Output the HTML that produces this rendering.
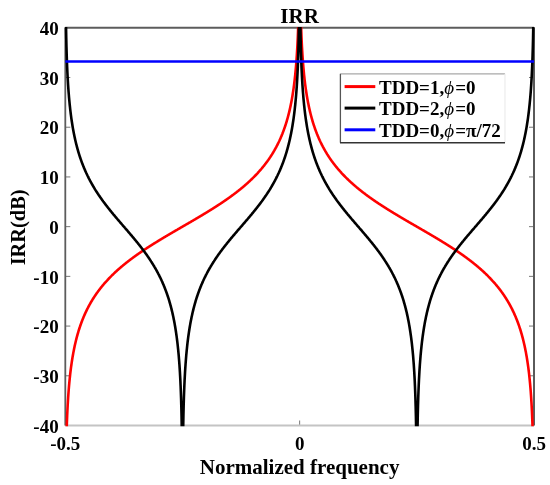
<!DOCTYPE html>
<html><head><meta charset="utf-8"><style>
html,body{margin:0;padding:0;background:#fff;}
svg{display:block;}
text{font-family:"Liberation Serif", "Times New Roman", serif;fill:#000;}
</style></head><body>
<svg width="550" height="485" viewBox="0 0 550 485">
<defs><clipPath id="ax"><rect x="64.0" y="26.900000000000002" width="471.30" height="399.30"/></clipPath></defs>
<rect x="0" y="0" width="550" height="485" fill="#fff"/>
<path d="M65.3,375.79h5M534.0,375.79h-5M65.3,326.07h5M534.0,326.07h-5M65.3,276.36h5M534.0,276.36h-5M65.3,226.65h5M534.0,226.65h-5M65.3,176.94h5M534.0,176.94h-5M65.3,127.22h5M534.0,127.22h-5M65.3,77.51h5M534.0,77.51h-5M299.65,425.5v-5M299.65,27.8v5" stroke="#777" stroke-width="1" fill="none"/>
<path d="M65.3,27.8H534.0" stroke="#5c5c5c" stroke-width="2" fill="none"/>
<path d="M65.3,425.5H534.0" stroke="#c4c4c4" stroke-width="2" fill="none"/>
<path d="M65.3,27.8V425.5" stroke="#5c5c5c" stroke-width="1.8" fill="none"/>
<path d="M534.0,27.8V425.5" stroke="#5a5a5a" stroke-width="2" fill="none"/>
<g clip-path="url(#ax)" fill="none" stroke-width="2.6" stroke-linejoin="round">
<path d="M65.30,500.07 L66.47,435.93 L66.71,428.06 L66.94,421.40 L67.17,415.63 L67.41,410.55 L67.64,406.00 L67.88,401.88 L68.11,398.12 L68.35,394.67 L68.58,391.47 L68.82,388.48 L69.05,385.70 L69.28,383.08 L69.52,380.61 L69.75,378.27 L69.99,376.06 L70.22,373.95 L70.46,371.94 L70.69,370.02 L70.92,368.18 L71.16,366.41 L71.39,364.72 L71.63,363.09 L71.86,361.51 L72.10,360.00 L72.33,358.53 L72.56,357.11 L72.80,355.74 L73.03,354.41 L73.27,353.12 L73.50,351.86 L73.74,350.64 L73.97,349.46 L74.21,348.30 L74.44,347.18 L74.67,346.08 L74.91,345.01 L75.14,343.97 L75.38,342.95 L75.61,341.96 L75.85,340.98 L76.08,340.03 L76.31,339.10 L76.55,338.19 L76.78,337.29 L77.02,336.42 L77.25,335.56 L77.49,334.72 L77.72,333.89 L77.95,333.08 L78.19,332.28 L78.42,331.50 L78.66,330.73 L78.89,329.98 L79.13,329.23 L79.36,328.50 L79.60,327.79 L79.83,327.08 L80.06,326.39 L80.30,325.70 L80.53,325.03 L80.77,324.36 L81.00,323.71 L81.24,323.06 L81.47,322.43 L81.70,321.80 L81.94,321.18 L82.17,320.58 L82.41,319.98 L82.64,319.38 L82.88,318.80 L83.11,318.22 L83.34,317.65 L83.58,317.09 L83.81,316.53 L84.05,315.98 L84.28,315.44 L84.52,314.91 L84.75,314.38 L84.99,313.85 L85.22,313.34 L85.45,312.82 L85.69,312.32 L85.92,311.82 L86.16,311.33 L86.39,310.84 L86.63,310.35 L86.86,309.87 L87.09,309.40 L87.33,308.93 L87.56,308.47 L87.80,308.01 L88.03,307.56 L88.27,307.11 L88.50,306.66 L88.73,306.22 L88.97,305.78 L89.20,305.35 L89.44,304.92 L89.67,304.50 L89.91,304.07 L90.14,303.66 L90.38,303.24 L90.61,302.84 L90.84,302.43 L91.08,302.03 L91.31,301.63 L91.55,301.23 L91.78,300.84 L92.02,300.45 L92.25,300.07 L92.48,299.69 L92.72,299.31 L92.95,298.93 L93.19,298.56 L93.42,298.19 L93.66,297.82 L93.89,297.46 L94.13,297.09 L94.36,296.74 L94.59,296.38 L94.83,296.03 L95.06,295.68 L95.30,295.33 L95.53,294.98 L95.77,294.64 L96.00,294.30 L96.23,293.96 L96.47,293.63 L96.70,293.29 L96.94,292.96 L97.17,292.63 L97.41,292.31 L97.64,291.98 L97.87,291.66 L98.11,291.34 L98.34,291.03 L98.58,290.71 L98.81,290.40 L99.05,290.09 L99.28,289.78 L99.52,289.47 L99.75,289.16 L99.98,288.86 L100.22,288.56 L100.45,288.26 L100.69,287.96 L100.92,287.66 L101.16,287.37 L101.39,287.08 L101.62,286.79 L101.86,286.50 L102.09,286.21 L102.33,285.92 L102.56,285.64 L102.80,285.36 L103.03,285.08 L103.26,284.80 L103.50,284.52 L103.73,284.24 L103.97,283.97 L104.20,283.70 L104.44,283.43 L104.67,283.16 L104.91,282.89 L105.14,282.62 L105.37,282.35 L105.61,282.09 L105.84,281.83 L106.08,281.56 L106.31,281.30 L106.55,281.05 L106.78,280.79 L107.01,280.53 L107.25,280.28 L107.48,280.02 L107.72,279.77 L107.95,279.52 L108.19,279.27 L108.42,279.02 L108.65,278.77 L108.89,278.53 L109.12,278.28 L109.36,278.04 L109.59,277.79 L109.83,277.55 L110.06,277.31 L110.30,277.07 L110.53,276.83 L110.76,276.59 L111.00,276.36 L111.23,276.12 L111.47,275.89 L111.70,275.66 L111.94,275.42 L112.17,275.19 L112.40,274.96 L112.64,274.73 L112.87,274.50 L113.11,274.28 L113.34,274.05 L113.58,273.82 L113.81,273.60 L114.04,273.38 L114.28,273.15 L114.51,272.93 L114.75,272.71 L114.98,272.49 L115.22,272.27 L115.45,272.05 L115.69,271.84 L115.92,271.62 L116.15,271.40 L116.39,271.19 L116.62,270.98 L116.86,270.76 L117.09,270.55 L117.33,270.34 L117.56,270.13 L117.79,269.92 L118.03,269.71 L118.26,269.50 L118.50,269.29 L118.73,269.08 L118.97,268.88 L119.20,268.67 L119.43,268.47 L119.67,268.26 L119.90,268.06 L120.14,267.86 L120.37,267.66 L120.61,267.46 L120.84,267.25 L121.08,267.05 L121.31,266.86 L121.54,266.66 L121.78,266.46 L122.01,266.26 L122.25,266.07 L122.48,265.87 L122.72,265.67 L122.95,265.48 L123.18,265.29 L123.42,265.09 L123.65,264.90 L123.89,264.71 L124.12,264.52 L124.36,264.32 L124.59,264.13 L124.82,263.94 L125.06,263.76 L125.29,263.57 L125.53,263.38 L125.76,263.19 L126.00,263.00 L126.23,262.82 L126.47,262.63 L126.70,262.45 L126.93,262.26 L127.17,262.08 L127.40,261.89 L127.64,261.71 L127.87,261.53 L128.11,261.35 L128.34,261.17 L128.57,260.98 L128.81,260.80 L129.04,260.62 L129.28,260.44 L129.51,260.26 L129.75,260.09 L129.98,259.91 L130.21,259.73 L130.45,259.55 L130.68,259.38 L130.92,259.20 L131.15,259.02 L131.39,258.85 L131.62,258.67 L131.86,258.50 L132.09,258.33 L132.32,258.15 L132.56,257.98 L132.79,257.81 L133.03,257.63 L133.26,257.46 L133.50,257.29 L133.73,257.12 L133.96,256.95 L134.20,256.78 L134.43,256.61 L134.67,256.44 L134.90,256.27 L135.14,256.10 L135.37,255.93 L135.61,255.77 L135.84,255.60 L136.07,255.43 L136.31,255.26 L136.54,255.10 L136.78,254.93 L137.01,254.77 L137.25,254.60 L137.48,254.44 L137.71,254.27 L137.95,254.11 L138.18,253.94 L138.42,253.78 L138.65,253.62 L138.89,253.45 L139.12,253.29 L139.35,253.13 L139.59,252.97 L139.82,252.81 L140.06,252.64 L140.29,252.48 L140.53,252.32 L140.76,252.16 L141.00,252.00 L141.23,251.84 L141.46,251.68 L141.70,251.53 L141.93,251.37 L142.17,251.21 L142.40,251.05 L142.64,250.89 L142.87,250.74 L143.10,250.58 L143.34,250.42 L143.57,250.26 L143.81,250.11 L144.04,249.95 L144.28,249.80 L144.51,249.64 L144.74,249.49 L144.98,249.33 L145.21,249.18 L145.45,249.02 L145.68,248.87 L145.92,248.71 L146.15,248.56 L146.39,248.41 L146.62,248.25 L146.85,248.10 L147.09,247.95 L147.32,247.80 L147.56,247.64 L147.79,247.49 L148.03,247.34 L148.26,247.19 L148.49,247.04 L148.73,246.89 L148.96,246.74 L149.20,246.59 L149.43,246.44 L149.67,246.29 L149.90,246.14 L150.13,245.99 L150.37,245.84 L150.60,245.69 L150.84,245.54 L151.07,245.39 L151.31,245.24 L151.54,245.09 L151.78,244.94 L152.01,244.80 L152.24,244.65 L152.48,244.50 L152.71,244.35 L152.95,244.21 L153.18,244.06 L153.42,243.91 L153.65,243.77 L153.88,243.62 L154.12,243.47 L154.35,243.33 L154.59,243.18 L154.82,243.04 L155.06,242.89 L155.29,242.75 L155.52,242.60 L155.76,242.46 L155.99,242.31 L156.23,242.17 L156.46,242.02 L156.70,241.88 L156.93,241.73 L157.17,241.59 L157.40,241.45 L157.63,241.30 L157.87,241.16 L158.10,241.02 L158.34,240.87 L158.57,240.73 L158.81,240.59 L159.04,240.44 L159.27,240.30 L159.51,240.16 L159.74,240.02 L159.98,239.87 L160.21,239.73 L160.45,239.59 L160.68,239.45 L160.91,239.31 L161.15,239.17 L161.38,239.02 L161.62,238.88 L161.85,238.74 L162.09,238.60 L162.32,238.46 L162.56,238.32 L162.79,238.18 L163.02,238.04 L163.26,237.90 L163.49,237.76 L163.73,237.62 L163.96,237.48 L164.20,237.34 L164.43,237.20 L164.66,237.06 L164.90,236.92 L165.13,236.78 L165.37,236.64 L165.60,236.50 L165.84,236.36 L166.07,236.22 L166.30,236.08 L166.54,235.95 L166.77,235.81 L167.01,235.67 L167.24,235.53 L167.48,235.39 L167.71,235.25 L167.95,235.11 L168.18,234.98 L168.41,234.84 L168.65,234.70 L168.88,234.56 L169.12,234.42 L169.35,234.29 L169.59,234.15 L169.82,234.01 L170.05,233.87 L170.29,233.74 L170.52,233.60 L170.76,233.46 L170.99,233.32 L171.23,233.19 L171.46,233.05 L171.69,232.91 L171.93,232.77 L172.16,232.64 L172.40,232.50 L172.63,232.36 L172.87,232.23 L173.10,232.09 L173.34,231.95 L173.57,231.82 L173.80,231.68 L174.04,231.54 L174.27,231.41 L174.51,231.27 L174.74,231.13 L174.98,231.00 L175.21,230.86 L175.44,230.73 L175.68,230.59 L175.91,230.45 L176.15,230.32 L176.38,230.18 L176.62,230.04 L176.85,229.91 L177.08,229.77 L177.32,229.64 L177.55,229.50 L177.79,229.36 L178.02,229.23 L178.26,229.09 L178.49,228.96 L178.73,228.82 L178.96,228.69 L179.19,228.55 L179.43,228.41 L179.66,228.28 L179.90,228.14 L180.13,228.01 L180.37,227.87 L180.60,227.74 L180.83,227.60 L181.07,227.46 L181.30,227.33 L181.54,227.19 L181.77,227.06 L182.01,226.92 L182.24,226.79 L182.47,226.65 L182.71,226.51 L182.94,226.38 L183.18,226.24 L183.41,226.11 L183.65,225.97 L183.88,225.84 L184.12,225.70 L184.35,225.56 L184.58,225.43 L184.82,225.29 L185.05,225.16 L185.29,225.02 L185.52,224.89 L185.76,224.75 L185.99,224.61 L186.22,224.48 L186.46,224.34 L186.69,224.21 L186.93,224.07 L187.16,223.94 L187.40,223.80 L187.63,223.66 L187.87,223.53 L188.10,223.39 L188.33,223.26 L188.57,223.12 L188.80,222.98 L189.04,222.85 L189.27,222.71 L189.51,222.57 L189.74,222.44 L189.97,222.30 L190.21,222.17 L190.44,222.03 L190.68,221.89 L190.91,221.76 L191.15,221.62 L191.38,221.48 L191.61,221.35 L191.85,221.21 L192.08,221.07 L192.32,220.94 L192.55,220.80 L192.79,220.66 L193.02,220.53 L193.26,220.39 L193.49,220.25 L193.72,220.11 L193.96,219.98 L194.19,219.84 L194.43,219.70 L194.66,219.56 L194.90,219.43 L195.13,219.29 L195.36,219.15 L195.60,219.01 L195.83,218.88 L196.07,218.74 L196.30,218.60 L196.54,218.46 L196.77,218.32 L197.00,218.19 L197.24,218.05 L197.47,217.91 L197.71,217.77 L197.94,217.63 L198.18,217.49 L198.41,217.35 L198.65,217.22 L198.88,217.08 L199.11,216.94 L199.35,216.80 L199.58,216.66 L199.82,216.52 L200.05,216.38 L200.29,216.24 L200.52,216.10 L200.75,215.96 L200.99,215.82 L201.22,215.68 L201.46,215.54 L201.69,215.40 L201.93,215.26 L202.16,215.12 L202.39,214.98 L202.63,214.84 L202.86,214.70 L203.10,214.56 L203.33,214.42 L203.57,214.28 L203.80,214.13 L204.04,213.99 L204.27,213.85 L204.50,213.71 L204.74,213.57 L204.97,213.43 L205.21,213.28 L205.44,213.14 L205.68,213.00 L205.91,212.86 L206.14,212.71 L206.38,212.57 L206.61,212.43 L206.85,212.28 L207.08,212.14 L207.32,212.00 L207.55,211.85 L207.78,211.71 L208.02,211.57 L208.25,211.42 L208.49,211.28 L208.72,211.13 L208.96,210.99 L209.19,210.84 L209.43,210.70 L209.66,210.55 L209.89,210.41 L210.13,210.26 L210.36,210.12 L210.60,209.97 L210.83,209.83 L211.07,209.68 L211.30,209.53 L211.53,209.39 L211.77,209.24 L212.00,209.09 L212.24,208.95 L212.47,208.80 L212.71,208.65 L212.94,208.50 L213.17,208.36 L213.41,208.21 L213.64,208.06 L213.88,207.91 L214.11,207.76 L214.35,207.61 L214.58,207.46 L214.82,207.31 L215.05,207.16 L215.28,207.01 L215.52,206.86 L215.75,206.71 L215.99,206.56 L216.22,206.41 L216.46,206.26 L216.69,206.11 L216.92,205.96 L217.16,205.81 L217.39,205.66 L217.63,205.50 L217.86,205.35 L218.10,205.20 L218.33,205.05 L218.56,204.89 L218.80,204.74 L219.03,204.59 L219.27,204.43 L219.50,204.28 L219.74,204.12 L219.97,203.97 L220.21,203.81 L220.44,203.66 L220.67,203.50 L220.91,203.35 L221.14,203.19 L221.38,203.04 L221.61,202.88 L221.85,202.72 L222.08,202.56 L222.31,202.41 L222.55,202.25 L222.78,202.09 L223.02,201.93 L223.25,201.77 L223.49,201.62 L223.72,201.46 L223.95,201.30 L224.19,201.14 L224.42,200.98 L224.66,200.82 L224.89,200.66 L225.13,200.49 L225.36,200.33 L225.60,200.17 L225.83,200.01 L226.06,199.85 L226.30,199.68 L226.53,199.52 L226.77,199.36 L227.00,199.19 L227.24,199.03 L227.47,198.86 L227.70,198.70 L227.94,198.53 L228.17,198.37 L228.41,198.20 L228.64,198.04 L228.88,197.87 L229.11,197.70 L229.35,197.53 L229.58,197.37 L229.81,197.20 L230.05,197.03 L230.28,196.86 L230.52,196.69 L230.75,196.52 L230.99,196.35 L231.22,196.18 L231.45,196.01 L231.69,195.84 L231.92,195.67 L232.16,195.49 L232.39,195.32 L232.63,195.15 L232.86,194.97 L233.09,194.80 L233.33,194.63 L233.56,194.45 L233.80,194.28 L234.03,194.10 L234.27,193.92 L234.50,193.75 L234.74,193.57 L234.97,193.39 L235.20,193.21 L235.44,193.04 L235.67,192.86 L235.91,192.68 L236.14,192.50 L236.38,192.32 L236.61,192.13 L236.84,191.95 L237.08,191.77 L237.31,191.59 L237.55,191.41 L237.78,191.22 L238.02,191.04 L238.25,190.85 L238.48,190.67 L238.72,190.48 L238.95,190.30 L239.19,190.11 L239.42,189.92 L239.66,189.73 L239.89,189.54 L240.13,189.36 L240.36,189.17 L240.59,188.98 L240.83,188.78 L241.06,188.59 L241.30,188.40 L241.53,188.21 L241.77,188.01 L242.00,187.82 L242.23,187.63 L242.47,187.43 L242.70,187.23 L242.94,187.04 L243.17,186.84 L243.41,186.64 L243.64,186.44 L243.87,186.25 L244.11,186.05 L244.34,185.84 L244.58,185.64 L244.81,185.44 L245.05,185.24 L245.28,185.04 L245.52,184.83 L245.75,184.63 L245.98,184.42 L246.22,184.22 L246.45,184.01 L246.69,183.80 L246.92,183.59 L247.16,183.38 L247.39,183.17 L247.62,182.96 L247.86,182.75 L248.09,182.54 L248.33,182.32 L248.56,182.11 L248.80,181.90 L249.03,181.68 L249.26,181.46 L249.50,181.25 L249.73,181.03 L249.97,180.81 L250.20,180.59 L250.44,180.37 L250.67,180.15 L250.91,179.92 L251.14,179.70 L251.37,179.48 L251.61,179.25 L251.84,179.02 L252.08,178.80 L252.31,178.57 L252.55,178.34 L252.78,178.11 L253.01,177.88 L253.25,177.64 L253.48,177.41 L253.72,177.18 L253.95,176.94 L254.19,176.71 L254.42,176.47 L254.65,176.23 L254.89,175.99 L255.12,175.75 L255.36,175.51 L255.59,175.26 L255.83,175.02 L256.06,174.77 L256.30,174.53 L256.53,174.28 L256.76,174.03 L257.00,173.78 L257.23,173.53 L257.47,173.28 L257.70,173.02 L257.94,172.77 L258.17,172.51 L258.40,172.25 L258.64,172.00 L258.87,171.74 L259.11,171.47 L259.34,171.21 L259.58,170.95 L259.81,170.68 L260.04,170.41 L260.28,170.14 L260.51,169.87 L260.75,169.60 L260.98,169.33 L261.22,169.06 L261.45,168.78 L261.69,168.50 L261.92,168.22 L262.15,167.94 L262.39,167.66 L262.62,167.38 L262.86,167.09 L263.09,166.80 L263.33,166.51 L263.56,166.22 L263.79,165.93 L264.03,165.64 L264.26,165.34 L264.50,165.04 L264.73,164.74 L264.97,164.44 L265.20,164.14 L265.43,163.83 L265.67,163.52 L265.90,163.21 L266.14,162.90 L266.37,162.59 L266.61,162.27 L266.84,161.96 L267.08,161.64 L267.31,161.32 L267.54,160.99 L267.78,160.67 L268.01,160.34 L268.25,160.01 L268.48,159.67 L268.72,159.34 L268.95,159.00 L269.18,158.66 L269.42,158.32 L269.65,157.97 L269.89,157.62 L270.12,157.27 L270.36,156.92 L270.59,156.56 L270.82,156.21 L271.06,155.84 L271.29,155.48 L271.53,155.11 L271.76,154.74 L272.00,154.37 L272.23,153.99 L272.47,153.61 L272.70,153.23 L272.93,152.85 L273.17,152.46 L273.40,152.07 L273.64,151.67 L273.87,151.27 L274.11,150.87 L274.34,150.46 L274.57,150.06 L274.81,149.64 L275.04,149.23 L275.28,148.80 L275.51,148.38 L275.75,147.95 L275.98,147.52 L276.21,147.08 L276.45,146.64 L276.68,146.19 L276.92,145.74 L277.15,145.29 L277.39,144.83 L277.62,144.37 L277.86,143.90 L278.09,143.43 L278.32,142.95 L278.56,142.46 L278.79,141.97 L279.03,141.48 L279.26,140.98 L279.50,140.48 L279.73,139.96 L279.96,139.45 L280.20,138.92 L280.43,138.39 L280.67,137.86 L280.90,137.32 L281.14,136.77 L281.37,136.21 L281.61,135.65 L281.84,135.08 L282.07,134.50 L282.31,133.92 L282.54,133.32 L282.78,132.72 L283.01,132.12 L283.25,131.50 L283.48,130.87 L283.71,130.24 L283.95,129.59 L284.18,128.94 L284.42,128.27 L284.65,127.60 L284.89,126.91 L285.12,126.22 L285.35,125.51 L285.59,124.80 L285.82,124.07 L286.06,123.32 L286.29,122.57 L286.53,121.80 L286.76,121.02 L287.00,120.22 L287.23,119.41 L287.46,118.58 L287.70,117.74 L287.93,116.88 L288.17,116.01 L288.40,115.11 L288.64,114.20 L288.87,113.27 L289.10,112.32 L289.34,111.34 L289.57,110.35 L289.81,109.33 L290.04,108.29 L290.28,107.22 L290.51,106.12 L290.74,105.00 L290.98,103.84 L291.21,102.66 L291.45,101.44 L291.68,100.18 L291.92,98.89 L292.15,97.56 L292.39,96.19 L292.62,94.77 L292.85,93.30 L293.09,91.79 L293.32,90.21 L293.56,88.58 L293.79,86.89 L294.03,85.12 L294.26,83.28 L294.49,81.36 L294.73,79.35 L294.96,77.24 L295.20,75.03 L295.43,72.69 L295.67,70.22 L295.90,67.60 L296.13,64.82 L296.37,61.83 L296.60,58.63 L296.84,55.18 L297.07,51.42 L297.31,47.30 L297.54,42.75 L297.78,37.67 L298.01,31.90 L298.24,25.24 L298.48,17.37 L299.42,-46.77M299.88,-46.77 L300.82,17.37 L301.06,25.24 L301.29,31.90 L301.52,37.67 L301.76,42.75 L301.99,47.30 L302.23,51.42 L302.46,55.18 L302.70,58.63 L302.93,61.83 L303.17,64.82 L303.40,67.60 L303.63,70.22 L303.87,72.69 L304.10,75.03 L304.34,77.24 L304.57,79.35 L304.81,81.36 L305.04,83.28 L305.27,85.12 L305.51,86.89 L305.74,88.58 L305.98,90.21 L306.21,91.79 L306.45,93.30 L306.68,94.77 L306.91,96.19 L307.15,97.56 L307.38,98.89 L307.62,100.18 L307.85,101.44 L308.09,102.66 L308.32,103.84 L308.56,105.00 L308.79,106.12 L309.02,107.22 L309.26,108.29 L309.49,109.33 L309.73,110.35 L309.96,111.34 L310.20,112.32 L310.43,113.27 L310.66,114.20 L310.90,115.11 L311.13,116.01 L311.37,116.88 L311.60,117.74 L311.84,118.58 L312.07,119.41 L312.30,120.22 L312.54,121.02 L312.77,121.80 L313.01,122.57 L313.24,123.32 L313.48,124.07 L313.71,124.80 L313.95,125.51 L314.18,126.22 L314.41,126.91 L314.65,127.60 L314.88,128.27 L315.12,128.94 L315.35,129.59 L315.59,130.24 L315.82,130.87 L316.05,131.50 L316.29,132.12 L316.52,132.72 L316.76,133.32 L316.99,133.92 L317.23,134.50 L317.46,135.08 L317.69,135.65 L317.93,136.21 L318.16,136.77 L318.40,137.32 L318.63,137.86 L318.87,138.39 L319.10,138.92 L319.34,139.45 L319.57,139.96 L319.80,140.48 L320.04,140.98 L320.27,141.48 L320.51,141.97 L320.74,142.46 L320.98,142.95 L321.21,143.43 L321.44,143.90 L321.68,144.37 L321.91,144.83 L322.15,145.29 L322.38,145.74 L322.62,146.19 L322.85,146.64 L323.09,147.08 L323.32,147.52 L323.55,147.95 L323.79,148.38 L324.02,148.80 L324.26,149.23 L324.49,149.64 L324.73,150.06 L324.96,150.46 L325.19,150.87 L325.43,151.27 L325.66,151.67 L325.90,152.07 L326.13,152.46 L326.37,152.85 L326.60,153.23 L326.83,153.61 L327.07,153.99 L327.30,154.37 L327.54,154.74 L327.77,155.11 L328.01,155.48 L328.24,155.84 L328.48,156.21 L328.71,156.56 L328.94,156.92 L329.18,157.27 L329.41,157.62 L329.65,157.97 L329.88,158.32 L330.12,158.66 L330.35,159.00 L330.58,159.34 L330.82,159.67 L331.05,160.01 L331.29,160.34 L331.52,160.67 L331.76,160.99 L331.99,161.32 L332.22,161.64 L332.46,161.96 L332.69,162.27 L332.93,162.59 L333.16,162.90 L333.40,163.21 L333.63,163.52 L333.87,163.83 L334.10,164.14 L334.33,164.44 L334.57,164.74 L334.80,165.04 L335.04,165.34 L335.27,165.64 L335.51,165.93 L335.74,166.22 L335.97,166.51 L336.21,166.80 L336.44,167.09 L336.68,167.38 L336.91,167.66 L337.15,167.94 L337.38,168.22 L337.61,168.50 L337.85,168.78 L338.08,169.06 L338.32,169.33 L338.55,169.60 L338.79,169.87 L339.02,170.14 L339.26,170.41 L339.49,170.68 L339.72,170.95 L339.96,171.21 L340.19,171.47 L340.43,171.74 L340.66,172.00 L340.90,172.25 L341.13,172.51 L341.36,172.77 L341.60,173.02 L341.83,173.28 L342.07,173.53 L342.30,173.78 L342.54,174.03 L342.77,174.28 L343.00,174.53 L343.24,174.77 L343.47,175.02 L343.71,175.26 L343.94,175.51 L344.18,175.75 L344.41,175.99 L344.65,176.23 L344.88,176.47 L345.11,176.71 L345.35,176.94 L345.58,177.18 L345.82,177.41 L346.05,177.64 L346.29,177.88 L346.52,178.11 L346.75,178.34 L346.99,178.57 L347.22,178.80 L347.46,179.02 L347.69,179.25 L347.93,179.48 L348.16,179.70 L348.39,179.92 L348.63,180.15 L348.86,180.37 L349.10,180.59 L349.33,180.81 L349.57,181.03 L349.80,181.25 L350.04,181.46 L350.27,181.68 L350.50,181.90 L350.74,182.11 L350.97,182.32 L351.21,182.54 L351.44,182.75 L351.68,182.96 L351.91,183.17 L352.14,183.38 L352.38,183.59 L352.61,183.80 L352.85,184.01 L353.08,184.22 L353.32,184.42 L353.55,184.63 L353.78,184.83 L354.02,185.04 L354.25,185.24 L354.49,185.44 L354.72,185.64 L354.96,185.84 L355.19,186.05 L355.43,186.25 L355.66,186.44 L355.89,186.64 L356.13,186.84 L356.36,187.04 L356.60,187.23 L356.83,187.43 L357.07,187.63 L357.30,187.82 L357.53,188.01 L357.77,188.21 L358.00,188.40 L358.24,188.59 L358.47,188.78 L358.71,188.98 L358.94,189.17 L359.17,189.36 L359.41,189.54 L359.64,189.73 L359.88,189.92 L360.11,190.11 L360.35,190.30 L360.58,190.48 L360.82,190.67 L361.05,190.85 L361.28,191.04 L361.52,191.22 L361.75,191.41 L361.99,191.59 L362.22,191.77 L362.46,191.95 L362.69,192.13 L362.92,192.32 L363.16,192.50 L363.39,192.68 L363.63,192.86 L363.86,193.04 L364.10,193.21 L364.33,193.39 L364.56,193.57 L364.80,193.75 L365.03,193.92 L365.27,194.10 L365.50,194.28 L365.74,194.45 L365.97,194.63 L366.21,194.80 L366.44,194.97 L366.67,195.15 L366.91,195.32 L367.14,195.49 L367.38,195.67 L367.61,195.84 L367.85,196.01 L368.08,196.18 L368.31,196.35 L368.55,196.52 L368.78,196.69 L369.02,196.86 L369.25,197.03 L369.49,197.20 L369.72,197.37 L369.96,197.53 L370.19,197.70 L370.42,197.87 L370.66,198.04 L370.89,198.20 L371.13,198.37 L371.36,198.53 L371.60,198.70 L371.83,198.86 L372.06,199.03 L372.30,199.19 L372.53,199.36 L372.77,199.52 L373.00,199.68 L373.24,199.85 L373.47,200.01 L373.70,200.17 L373.94,200.33 L374.17,200.49 L374.41,200.66 L374.64,200.82 L374.88,200.98 L375.11,201.14 L375.35,201.30 L375.58,201.46 L375.81,201.62 L376.05,201.77 L376.28,201.93 L376.52,202.09 L376.75,202.25 L376.99,202.41 L377.22,202.56 L377.45,202.72 L377.69,202.88 L377.92,203.04 L378.16,203.19 L378.39,203.35 L378.63,203.50 L378.86,203.66 L379.09,203.81 L379.33,203.97 L379.56,204.12 L379.80,204.28 L380.03,204.43 L380.27,204.59 L380.50,204.74 L380.74,204.89 L380.97,205.05 L381.20,205.20 L381.44,205.35 L381.67,205.50 L381.91,205.66 L382.14,205.81 L382.38,205.96 L382.61,206.11 L382.84,206.26 L383.08,206.41 L383.31,206.56 L383.55,206.71 L383.78,206.86 L384.02,207.01 L384.25,207.16 L384.48,207.31 L384.72,207.46 L384.95,207.61 L385.19,207.76 L385.42,207.91 L385.66,208.06 L385.89,208.21 L386.13,208.36 L386.36,208.50 L386.59,208.65 L386.83,208.80 L387.06,208.95 L387.30,209.09 L387.53,209.24 L387.77,209.39 L388.00,209.53 L388.23,209.68 L388.47,209.83 L388.70,209.97 L388.94,210.12 L389.17,210.26 L389.41,210.41 L389.64,210.55 L389.87,210.70 L390.11,210.84 L390.34,210.99 L390.58,211.13 L390.81,211.28 L391.05,211.42 L391.28,211.57 L391.52,211.71 L391.75,211.85 L391.98,212.00 L392.22,212.14 L392.45,212.28 L392.69,212.43 L392.92,212.57 L393.16,212.71 L393.39,212.86 L393.62,213.00 L393.86,213.14 L394.09,213.28 L394.33,213.43 L394.56,213.57 L394.80,213.71 L395.03,213.85 L395.26,213.99 L395.50,214.13 L395.73,214.28 L395.97,214.42 L396.20,214.56 L396.44,214.70 L396.67,214.84 L396.91,214.98 L397.14,215.12 L397.37,215.26 L397.61,215.40 L397.84,215.54 L398.08,215.68 L398.31,215.82 L398.55,215.96 L398.78,216.10 L399.01,216.24 L399.25,216.38 L399.48,216.52 L399.72,216.66 L399.95,216.80 L400.19,216.94 L400.42,217.08 L400.65,217.22 L400.89,217.35 L401.12,217.49 L401.36,217.63 L401.59,217.77 L401.83,217.91 L402.06,218.05 L402.30,218.19 L402.53,218.32 L402.76,218.46 L403.00,218.60 L403.23,218.74 L403.47,218.88 L403.70,219.01 L403.94,219.15 L404.17,219.29 L404.40,219.43 L404.64,219.56 L404.87,219.70 L405.11,219.84 L405.34,219.98 L405.58,220.11 L405.81,220.25 L406.04,220.39 L406.28,220.53 L406.51,220.66 L406.75,220.80 L406.98,220.94 L407.22,221.07 L407.45,221.21 L407.69,221.35 L407.92,221.48 L408.15,221.62 L408.39,221.76 L408.62,221.89 L408.86,222.03 L409.09,222.17 L409.33,222.30 L409.56,222.44 L409.79,222.57 L410.03,222.71 L410.26,222.85 L410.50,222.98 L410.73,223.12 L410.97,223.26 L411.20,223.39 L411.43,223.53 L411.67,223.66 L411.90,223.80 L412.14,223.94 L412.37,224.07 L412.61,224.21 L412.84,224.34 L413.08,224.48 L413.31,224.61 L413.54,224.75 L413.78,224.89 L414.01,225.02 L414.25,225.16 L414.48,225.29 L414.72,225.43 L414.95,225.56 L415.18,225.70 L415.42,225.84 L415.65,225.97 L415.89,226.11 L416.12,226.24 L416.36,226.38 L416.59,226.51 L416.82,226.65 L417.06,226.79 L417.29,226.92 L417.53,227.06 L417.76,227.19 L418.00,227.33 L418.23,227.46 L418.47,227.60 L418.70,227.74 L418.93,227.87 L419.17,228.01 L419.40,228.14 L419.64,228.28 L419.87,228.41 L420.11,228.55 L420.34,228.69 L420.57,228.82 L420.81,228.96 L421.04,229.09 L421.28,229.23 L421.51,229.36 L421.75,229.50 L421.98,229.64 L422.22,229.77 L422.45,229.91 L422.68,230.04 L422.92,230.18 L423.15,230.32 L423.39,230.45 L423.62,230.59 L423.86,230.73 L424.09,230.86 L424.32,231.00 L424.56,231.13 L424.79,231.27 L425.03,231.41 L425.26,231.54 L425.50,231.68 L425.73,231.82 L425.96,231.95 L426.20,232.09 L426.43,232.23 L426.67,232.36 L426.90,232.50 L427.14,232.64 L427.37,232.77 L427.61,232.91 L427.84,233.05 L428.07,233.19 L428.31,233.32 L428.54,233.46 L428.78,233.60 L429.01,233.74 L429.25,233.87 L429.48,234.01 L429.71,234.15 L429.95,234.29 L430.18,234.42 L430.42,234.56 L430.65,234.70 L430.89,234.84 L431.12,234.98 L431.35,235.11 L431.59,235.25 L431.82,235.39 L432.06,235.53 L432.29,235.67 L432.53,235.81 L432.76,235.95 L433.00,236.08 L433.23,236.22 L433.46,236.36 L433.70,236.50 L433.93,236.64 L434.17,236.78 L434.40,236.92 L434.64,237.06 L434.87,237.20 L435.10,237.34 L435.34,237.48 L435.57,237.62 L435.81,237.76 L436.04,237.90 L436.28,238.04 L436.51,238.18 L436.74,238.32 L436.98,238.46 L437.21,238.60 L437.45,238.74 L437.68,238.88 L437.92,239.02 L438.15,239.17 L438.39,239.31 L438.62,239.45 L438.85,239.59 L439.09,239.73 L439.32,239.87 L439.56,240.02 L439.79,240.16 L440.03,240.30 L440.26,240.44 L440.49,240.59 L440.73,240.73 L440.96,240.87 L441.20,241.02 L441.43,241.16 L441.67,241.30 L441.90,241.45 L442.13,241.59 L442.37,241.73 L442.60,241.88 L442.84,242.02 L443.07,242.17 L443.31,242.31 L443.54,242.46 L443.78,242.60 L444.01,242.75 L444.24,242.89 L444.48,243.04 L444.71,243.18 L444.95,243.33 L445.18,243.47 L445.42,243.62 L445.65,243.77 L445.88,243.91 L446.12,244.06 L446.35,244.21 L446.59,244.35 L446.82,244.50 L447.06,244.65 L447.29,244.80 L447.52,244.94 L447.76,245.09 L447.99,245.24 L448.23,245.39 L448.46,245.54 L448.70,245.69 L448.93,245.84 L449.17,245.99 L449.40,246.14 L449.63,246.29 L449.87,246.44 L450.10,246.59 L450.34,246.74 L450.57,246.89 L450.81,247.04 L451.04,247.19 L451.27,247.34 L451.51,247.49 L451.74,247.64 L451.98,247.80 L452.21,247.95 L452.45,248.10 L452.68,248.25 L452.91,248.41 L453.15,248.56 L453.38,248.71 L453.62,248.87 L453.85,249.02 L454.09,249.18 L454.32,249.33 L454.56,249.49 L454.79,249.64 L455.02,249.80 L455.26,249.95 L455.49,250.11 L455.73,250.26 L455.96,250.42 L456.20,250.58 L456.43,250.74 L456.66,250.89 L456.90,251.05 L457.13,251.21 L457.37,251.37 L457.60,251.53 L457.84,251.68 L458.07,251.84 L458.30,252.00 L458.54,252.16 L458.77,252.32 L459.01,252.48 L459.24,252.64 L459.48,252.81 L459.71,252.97 L459.95,253.13 L460.18,253.29 L460.41,253.45 L460.65,253.62 L460.88,253.78 L461.12,253.94 L461.35,254.11 L461.59,254.27 L461.82,254.44 L462.05,254.60 L462.29,254.77 L462.52,254.93 L462.76,255.10 L462.99,255.26 L463.23,255.43 L463.46,255.60 L463.69,255.77 L463.93,255.93 L464.16,256.10 L464.40,256.27 L464.63,256.44 L464.87,256.61 L465.10,256.78 L465.34,256.95 L465.57,257.12 L465.80,257.29 L466.04,257.46 L466.27,257.63 L466.51,257.81 L466.74,257.98 L466.98,258.15 L467.21,258.33 L467.44,258.50 L467.68,258.67 L467.91,258.85 L468.15,259.02 L468.38,259.20 L468.62,259.38 L468.85,259.55 L469.09,259.73 L469.32,259.91 L469.55,260.09 L469.79,260.26 L470.02,260.44 L470.26,260.62 L470.49,260.80 L470.73,260.98 L470.96,261.17 L471.19,261.35 L471.43,261.53 L471.66,261.71 L471.90,261.89 L472.13,262.08 L472.37,262.26 L472.60,262.45 L472.83,262.63 L473.07,262.82 L473.30,263.00 L473.54,263.19 L473.77,263.38 L474.01,263.57 L474.24,263.76 L474.48,263.94 L474.71,264.13 L474.94,264.32 L475.18,264.52 L475.41,264.71 L475.65,264.90 L475.88,265.09 L476.12,265.29 L476.35,265.48 L476.58,265.67 L476.82,265.87 L477.05,266.07 L477.29,266.26 L477.52,266.46 L477.76,266.66 L477.99,266.86 L478.22,267.05 L478.46,267.25 L478.69,267.46 L478.93,267.66 L479.16,267.86 L479.40,268.06 L479.63,268.26 L479.87,268.47 L480.10,268.67 L480.33,268.88 L480.57,269.08 L480.80,269.29 L481.04,269.50 L481.27,269.71 L481.51,269.92 L481.74,270.13 L481.97,270.34 L482.21,270.55 L482.44,270.76 L482.68,270.98 L482.91,271.19 L483.15,271.40 L483.38,271.62 L483.61,271.84 L483.85,272.05 L484.08,272.27 L484.32,272.49 L484.55,272.71 L484.79,272.93 L485.02,273.15 L485.26,273.38 L485.49,273.60 L485.72,273.82 L485.96,274.05 L486.19,274.28 L486.43,274.50 L486.66,274.73 L486.90,274.96 L487.13,275.19 L487.36,275.42 L487.60,275.66 L487.83,275.89 L488.07,276.12 L488.30,276.36 L488.54,276.59 L488.77,276.83 L489.00,277.07 L489.24,277.31 L489.47,277.55 L489.71,277.79 L489.94,278.04 L490.18,278.28 L490.41,278.53 L490.65,278.77 L490.88,279.02 L491.11,279.27 L491.35,279.52 L491.58,279.77 L491.82,280.02 L492.05,280.28 L492.29,280.53 L492.52,280.79 L492.75,281.05 L492.99,281.30 L493.22,281.56 L493.46,281.83 L493.69,282.09 L493.93,282.35 L494.16,282.62 L494.39,282.89 L494.63,283.16 L494.86,283.43 L495.10,283.70 L495.33,283.97 L495.57,284.24 L495.80,284.52 L496.04,284.80 L496.27,285.08 L496.50,285.36 L496.74,285.64 L496.97,285.92 L497.21,286.21 L497.44,286.50 L497.68,286.79 L497.91,287.08 L498.14,287.37 L498.38,287.66 L498.61,287.96 L498.85,288.26 L499.08,288.56 L499.32,288.86 L499.55,289.16 L499.78,289.47 L500.02,289.78 L500.25,290.09 L500.49,290.40 L500.72,290.71 L500.96,291.03 L501.19,291.34 L501.43,291.66 L501.66,291.98 L501.89,292.31 L502.13,292.63 L502.36,292.96 L502.60,293.29 L502.83,293.63 L503.07,293.96 L503.30,294.30 L503.53,294.64 L503.77,294.98 L504.00,295.33 L504.24,295.68 L504.47,296.03 L504.71,296.38 L504.94,296.74 L505.17,297.09 L505.41,297.46 L505.64,297.82 L505.88,298.19 L506.11,298.56 L506.35,298.93 L506.58,299.31 L506.82,299.69 L507.05,300.07 L507.28,300.45 L507.52,300.84 L507.75,301.23 L507.99,301.63 L508.22,302.03 L508.46,302.43 L508.69,302.84 L508.92,303.24 L509.16,303.66 L509.39,304.07 L509.63,304.50 L509.86,304.92 L510.10,305.35 L510.33,305.78 L510.57,306.22 L510.80,306.66 L511.03,307.11 L511.27,307.56 L511.50,308.01 L511.74,308.47 L511.97,308.93 L512.21,309.40 L512.44,309.87 L512.67,310.35 L512.91,310.84 L513.14,311.33 L513.38,311.82 L513.61,312.32 L513.85,312.82 L514.08,313.34 L514.31,313.85 L514.55,314.38 L514.78,314.91 L515.02,315.44 L515.25,315.98 L515.49,316.53 L515.72,317.09 L515.96,317.65 L516.19,318.22 L516.42,318.80 L516.66,319.38 L516.89,319.98 L517.13,320.58 L517.36,321.18 L517.60,321.80 L517.83,322.43 L518.06,323.06 L518.30,323.71 L518.53,324.36 L518.77,325.03 L519.00,325.70 L519.24,326.39 L519.47,327.08 L519.70,327.79 L519.94,328.50 L520.17,329.23 L520.41,329.98 L520.64,330.73 L520.88,331.50 L521.11,332.28 L521.35,333.08 L521.58,333.89 L521.81,334.72 L522.05,335.56 L522.28,336.42 L522.52,337.29 L522.75,338.19 L522.99,339.10 L523.22,340.03 L523.45,340.98 L523.69,341.96 L523.92,342.95 L524.16,343.97 L524.39,345.01 L524.63,346.08 L524.86,347.18 L525.09,348.30 L525.33,349.46 L525.56,350.64 L525.80,351.86 L526.03,353.12 L526.27,354.41 L526.50,355.74 L526.74,357.11 L526.97,358.53 L527.20,360.00 L527.44,361.51 L527.67,363.09 L527.91,364.72 L528.14,366.41 L528.38,368.18 L528.61,370.02 L528.84,371.94 L529.08,373.95 L529.31,376.06 L529.55,378.27 L529.78,380.61 L530.02,383.08 L530.25,385.70 L530.48,388.48 L530.72,391.47 L530.95,394.67 L531.19,398.12 L531.42,401.88 L531.66,406.00 L531.89,410.55 L532.13,415.63 L532.36,421.40 L532.59,428.06 L532.83,435.93 L534.00,500.07" stroke="#ff0000"/>
<path d="M65.30,-46.77 L65.77,7.73 L66.00,25.24 L66.24,37.67 L66.47,47.30 L66.71,55.18 L66.94,61.83 L67.17,67.60 L67.41,72.69 L67.64,77.24 L67.88,81.36 L68.11,85.12 L68.35,88.58 L68.58,91.79 L68.82,94.77 L69.05,97.56 L69.28,100.18 L69.52,102.66 L69.75,105.00 L69.99,107.22 L70.22,109.33 L70.46,111.34 L70.69,113.27 L70.92,115.11 L71.16,116.88 L71.39,118.58 L71.63,120.22 L71.86,121.80 L72.10,123.32 L72.33,124.80 L72.56,126.22 L72.80,127.60 L73.03,128.94 L73.27,130.24 L73.50,131.50 L73.74,132.72 L73.97,133.92 L74.21,135.08 L74.44,136.21 L74.67,137.32 L74.91,138.39 L75.14,139.45 L75.38,140.48 L75.61,141.48 L75.85,142.46 L76.08,143.43 L76.31,144.37 L76.55,145.29 L76.78,146.19 L77.02,147.08 L77.25,147.95 L77.49,148.80 L77.72,149.64 L77.95,150.46 L78.19,151.27 L78.42,152.07 L78.66,152.85 L78.89,153.61 L79.13,154.37 L79.36,155.11 L79.60,155.84 L79.83,156.56 L80.06,157.27 L80.30,157.97 L80.53,158.66 L80.77,159.34 L81.00,160.01 L81.24,160.67 L81.47,161.32 L81.70,161.96 L81.94,162.59 L82.17,163.21 L82.41,163.83 L82.64,164.44 L82.88,165.04 L83.11,165.64 L83.34,166.22 L83.58,166.80 L83.81,167.38 L84.05,167.94 L84.28,168.50 L84.52,169.06 L84.75,169.60 L84.99,170.14 L85.22,170.68 L85.45,171.21 L85.69,171.74 L85.92,172.25 L86.16,172.77 L86.39,173.28 L86.63,173.78 L86.86,174.28 L87.09,174.77 L87.33,175.26 L87.56,175.75 L87.80,176.23 L88.03,176.71 L88.27,177.18 L88.50,177.64 L88.73,178.11 L88.97,178.57 L89.20,179.02 L89.44,179.48 L89.67,179.92 L89.91,180.37 L90.14,180.81 L90.38,181.25 L90.61,181.68 L90.84,182.11 L91.08,182.54 L91.31,182.96 L91.55,183.38 L91.78,183.80 L92.02,184.22 L92.25,184.63 L92.48,185.04 L92.72,185.44 L92.95,185.84 L93.19,186.25 L93.42,186.64 L93.66,187.04 L93.89,187.43 L94.13,187.82 L94.36,188.21 L94.59,188.59 L94.83,188.98 L95.06,189.36 L95.30,189.73 L95.53,190.11 L95.77,190.48 L96.00,190.85 L96.23,191.22 L96.47,191.59 L96.70,191.95 L96.94,192.32 L97.17,192.68 L97.41,193.04 L97.64,193.39 L97.87,193.75 L98.11,194.10 L98.34,194.45 L98.58,194.80 L98.81,195.15 L99.05,195.49 L99.28,195.84 L99.52,196.18 L99.75,196.52 L99.98,196.86 L100.22,197.20 L100.45,197.53 L100.69,197.87 L100.92,198.20 L101.16,198.53 L101.39,198.86 L101.62,199.19 L101.86,199.52 L102.09,199.85 L102.33,200.17 L102.56,200.49 L102.80,200.82 L103.03,201.14 L103.26,201.46 L103.50,201.77 L103.73,202.09 L103.97,202.41 L104.20,202.72 L104.44,203.04 L104.67,203.35 L104.91,203.66 L105.14,203.97 L105.37,204.28 L105.61,204.59 L105.84,204.89 L106.08,205.20 L106.31,205.50 L106.55,205.81 L106.78,206.11 L107.01,206.41 L107.25,206.71 L107.48,207.01 L107.72,207.31 L107.95,207.61 L108.19,207.91 L108.42,208.21 L108.65,208.50 L108.89,208.80 L109.12,209.09 L109.36,209.39 L109.59,209.68 L109.83,209.97 L110.06,210.26 L110.30,210.55 L110.53,210.84 L110.76,211.13 L111.00,211.42 L111.23,211.71 L111.47,212.00 L111.70,212.28 L111.94,212.57 L112.17,212.86 L112.40,213.14 L112.64,213.43 L112.87,213.71 L113.11,213.99 L113.34,214.28 L113.58,214.56 L113.81,214.84 L114.04,215.12 L114.28,215.40 L114.51,215.68 L114.75,215.96 L114.98,216.24 L115.22,216.52 L115.45,216.80 L115.69,217.08 L115.92,217.35 L116.15,217.63 L116.39,217.91 L116.62,218.19 L116.86,218.46 L117.09,218.74 L117.33,219.01 L117.56,219.29 L117.79,219.56 L118.03,219.84 L118.26,220.11 L118.50,220.39 L118.73,220.66 L118.97,220.94 L119.20,221.21 L119.43,221.48 L119.67,221.76 L119.90,222.03 L120.14,222.30 L120.37,222.57 L120.61,222.85 L120.84,223.12 L121.08,223.39 L121.31,223.66 L121.54,223.94 L121.78,224.21 L122.01,224.48 L122.25,224.75 L122.48,225.02 L122.72,225.29 L122.95,225.56 L123.18,225.84 L123.42,226.11 L123.65,226.38 L123.89,226.65 L124.12,226.92 L124.36,227.19 L124.59,227.46 L124.82,227.74 L125.06,228.01 L125.29,228.28 L125.53,228.55 L125.76,228.82 L126.00,229.09 L126.23,229.36 L126.47,229.64 L126.70,229.91 L126.93,230.18 L127.17,230.45 L127.40,230.73 L127.64,231.00 L127.87,231.27 L128.11,231.54 L128.34,231.82 L128.57,232.09 L128.81,232.36 L129.04,232.64 L129.28,232.91 L129.51,233.19 L129.75,233.46 L129.98,233.74 L130.21,234.01 L130.45,234.29 L130.68,234.56 L130.92,234.84 L131.15,235.11 L131.39,235.39 L131.62,235.67 L131.86,235.95 L132.09,236.22 L132.32,236.50 L132.56,236.78 L132.79,237.06 L133.03,237.34 L133.26,237.62 L133.50,237.90 L133.73,238.18 L133.96,238.46 L134.20,238.74 L134.43,239.02 L134.67,239.31 L134.90,239.59 L135.14,239.87 L135.37,240.16 L135.61,240.44 L135.84,240.73 L136.07,241.02 L136.31,241.30 L136.54,241.59 L136.78,241.88 L137.01,242.17 L137.25,242.46 L137.48,242.75 L137.71,243.04 L137.95,243.33 L138.18,243.62 L138.42,243.91 L138.65,244.21 L138.89,244.50 L139.12,244.80 L139.35,245.09 L139.59,245.39 L139.82,245.69 L140.06,245.99 L140.29,246.29 L140.53,246.59 L140.76,246.89 L141.00,247.19 L141.23,247.49 L141.46,247.80 L141.70,248.10 L141.93,248.41 L142.17,248.71 L142.40,249.02 L142.64,249.33 L142.87,249.64 L143.10,249.95 L143.34,250.26 L143.57,250.58 L143.81,250.89 L144.04,251.21 L144.28,251.53 L144.51,251.84 L144.74,252.16 L144.98,252.48 L145.21,252.81 L145.45,253.13 L145.68,253.45 L145.92,253.78 L146.15,254.11 L146.39,254.44 L146.62,254.77 L146.85,255.10 L147.09,255.43 L147.32,255.77 L147.56,256.10 L147.79,256.44 L148.03,256.78 L148.26,257.12 L148.49,257.46 L148.73,257.81 L148.96,258.15 L149.20,258.50 L149.43,258.85 L149.67,259.20 L149.90,259.55 L150.13,259.91 L150.37,260.26 L150.60,260.62 L150.84,260.98 L151.07,261.35 L151.31,261.71 L151.54,262.08 L151.78,262.45 L152.01,262.82 L152.24,263.19 L152.48,263.57 L152.71,263.94 L152.95,264.32 L153.18,264.71 L153.42,265.09 L153.65,265.48 L153.88,265.87 L154.12,266.26 L154.35,266.66 L154.59,267.05 L154.82,267.46 L155.06,267.86 L155.29,268.26 L155.52,268.67 L155.76,269.08 L155.99,269.50 L156.23,269.92 L156.46,270.34 L156.70,270.76 L156.93,271.19 L157.17,271.62 L157.40,272.05 L157.63,272.49 L157.87,272.93 L158.10,273.38 L158.34,273.82 L158.57,274.28 L158.81,274.73 L159.04,275.19 L159.27,275.66 L159.51,276.12 L159.74,276.59 L159.98,277.07 L160.21,277.55 L160.45,278.04 L160.68,278.53 L160.91,279.02 L161.15,279.52 L161.38,280.02 L161.62,280.53 L161.85,281.05 L162.09,281.56 L162.32,282.09 L162.56,282.62 L162.79,283.16 L163.02,283.70 L163.26,284.24 L163.49,284.80 L163.73,285.36 L163.96,285.92 L164.20,286.50 L164.43,287.08 L164.66,287.66 L164.90,288.26 L165.13,288.86 L165.37,289.47 L165.60,290.09 L165.84,290.71 L166.07,291.34 L166.30,291.98 L166.54,292.63 L166.77,293.29 L167.01,293.96 L167.24,294.64 L167.48,295.33 L167.71,296.03 L167.95,296.74 L168.18,297.46 L168.41,298.19 L168.65,298.93 L168.88,299.69 L169.12,300.45 L169.35,301.23 L169.59,302.03 L169.82,302.84 L170.05,303.66 L170.29,304.50 L170.52,305.35 L170.76,306.22 L170.99,307.11 L171.23,308.01 L171.46,308.93 L171.69,309.87 L171.93,310.84 L172.16,311.82 L172.40,312.82 L172.63,313.85 L172.87,314.91 L173.10,315.98 L173.34,317.09 L173.57,318.22 L173.80,319.38 L174.04,320.58 L174.27,321.80 L174.51,323.06 L174.74,324.36 L174.98,325.70 L175.21,327.08 L175.44,328.50 L175.68,329.98 L175.91,331.50 L176.15,333.08 L176.38,334.72 L176.62,336.42 L176.85,338.19 L177.08,340.03 L177.32,341.96 L177.55,343.97 L177.79,346.08 L178.02,348.30 L178.26,350.64 L178.49,353.12 L178.73,355.74 L178.96,358.53 L179.19,361.51 L179.43,364.72 L179.66,368.18 L179.90,371.94 L180.13,376.06 L180.37,380.61 L180.60,385.70 L180.83,391.47 L181.07,398.12 L181.30,406.00 L181.54,415.63 L181.77,428.06 L182.01,445.57 L182.94,445.57 L183.18,428.06 L183.41,415.63 L183.65,406.00 L183.88,398.12 L184.12,391.47 L184.35,385.70 L184.58,380.61 L184.82,376.06 L185.05,371.94 L185.29,368.18 L185.52,364.72 L185.76,361.51 L185.99,358.53 L186.22,355.74 L186.46,353.12 L186.69,350.64 L186.93,348.30 L187.16,346.08 L187.40,343.97 L187.63,341.96 L187.87,340.03 L188.10,338.19 L188.33,336.42 L188.57,334.72 L188.80,333.08 L189.04,331.50 L189.27,329.98 L189.51,328.50 L189.74,327.08 L189.97,325.70 L190.21,324.36 L190.44,323.06 L190.68,321.80 L190.91,320.58 L191.15,319.38 L191.38,318.22 L191.61,317.09 L191.85,315.98 L192.08,314.91 L192.32,313.85 L192.55,312.82 L192.79,311.82 L193.02,310.84 L193.26,309.87 L193.49,308.93 L193.72,308.01 L193.96,307.11 L194.19,306.22 L194.43,305.35 L194.66,304.50 L194.90,303.66 L195.13,302.84 L195.36,302.03 L195.60,301.23 L195.83,300.45 L196.07,299.69 L196.30,298.93 L196.54,298.19 L196.77,297.46 L197.00,296.74 L197.24,296.03 L197.47,295.33 L197.71,294.64 L197.94,293.96 L198.18,293.29 L198.41,292.63 L198.65,291.98 L198.88,291.34 L199.11,290.71 L199.35,290.09 L199.58,289.47 L199.82,288.86 L200.05,288.26 L200.29,287.66 L200.52,287.08 L200.75,286.50 L200.99,285.92 L201.22,285.36 L201.46,284.80 L201.69,284.24 L201.93,283.70 L202.16,283.16 L202.39,282.62 L202.63,282.09 L202.86,281.56 L203.10,281.05 L203.33,280.53 L203.57,280.02 L203.80,279.52 L204.04,279.02 L204.27,278.53 L204.50,278.04 L204.74,277.55 L204.97,277.07 L205.21,276.59 L205.44,276.12 L205.68,275.66 L205.91,275.19 L206.14,274.73 L206.38,274.28 L206.61,273.82 L206.85,273.38 L207.08,272.93 L207.32,272.49 L207.55,272.05 L207.78,271.62 L208.02,271.19 L208.25,270.76 L208.49,270.34 L208.72,269.92 L208.96,269.50 L209.19,269.08 L209.43,268.67 L209.66,268.26 L209.89,267.86 L210.13,267.46 L210.36,267.05 L210.60,266.66 L210.83,266.26 L211.07,265.87 L211.30,265.48 L211.53,265.09 L211.77,264.71 L212.00,264.32 L212.24,263.94 L212.47,263.57 L212.71,263.19 L212.94,262.82 L213.17,262.45 L213.41,262.08 L213.64,261.71 L213.88,261.35 L214.11,260.98 L214.35,260.62 L214.58,260.26 L214.82,259.91 L215.05,259.55 L215.28,259.20 L215.52,258.85 L215.75,258.50 L215.99,258.15 L216.22,257.81 L216.46,257.46 L216.69,257.12 L216.92,256.78 L217.16,256.44 L217.39,256.10 L217.63,255.77 L217.86,255.43 L218.10,255.10 L218.33,254.77 L218.56,254.44 L218.80,254.11 L219.03,253.78 L219.27,253.45 L219.50,253.13 L219.74,252.81 L219.97,252.48 L220.21,252.16 L220.44,251.84 L220.67,251.53 L220.91,251.21 L221.14,250.89 L221.38,250.58 L221.61,250.26 L221.85,249.95 L222.08,249.64 L222.31,249.33 L222.55,249.02 L222.78,248.71 L223.02,248.41 L223.25,248.10 L223.49,247.80 L223.72,247.49 L223.95,247.19 L224.19,246.89 L224.42,246.59 L224.66,246.29 L224.89,245.99 L225.13,245.69 L225.36,245.39 L225.60,245.09 L225.83,244.80 L226.06,244.50 L226.30,244.21 L226.53,243.91 L226.77,243.62 L227.00,243.33 L227.24,243.04 L227.47,242.75 L227.70,242.46 L227.94,242.17 L228.17,241.88 L228.41,241.59 L228.64,241.30 L228.88,241.02 L229.11,240.73 L229.35,240.44 L229.58,240.16 L229.81,239.87 L230.05,239.59 L230.28,239.31 L230.52,239.02 L230.75,238.74 L230.99,238.46 L231.22,238.18 L231.45,237.90 L231.69,237.62 L231.92,237.34 L232.16,237.06 L232.39,236.78 L232.63,236.50 L232.86,236.22 L233.09,235.95 L233.33,235.67 L233.56,235.39 L233.80,235.11 L234.03,234.84 L234.27,234.56 L234.50,234.29 L234.74,234.01 L234.97,233.74 L235.20,233.46 L235.44,233.19 L235.67,232.91 L235.91,232.64 L236.14,232.36 L236.38,232.09 L236.61,231.82 L236.84,231.54 L237.08,231.27 L237.31,231.00 L237.55,230.73 L237.78,230.45 L238.02,230.18 L238.25,229.91 L238.48,229.64 L238.72,229.36 L238.95,229.09 L239.19,228.82 L239.42,228.55 L239.66,228.28 L239.89,228.01 L240.13,227.74 L240.36,227.46 L240.59,227.19 L240.83,226.92 L241.06,226.65 L241.30,226.38 L241.53,226.11 L241.77,225.84 L242.00,225.56 L242.23,225.29 L242.47,225.02 L242.70,224.75 L242.94,224.48 L243.17,224.21 L243.41,223.94 L243.64,223.66 L243.87,223.39 L244.11,223.12 L244.34,222.85 L244.58,222.57 L244.81,222.30 L245.05,222.03 L245.28,221.76 L245.52,221.48 L245.75,221.21 L245.98,220.94 L246.22,220.66 L246.45,220.39 L246.69,220.11 L246.92,219.84 L247.16,219.56 L247.39,219.29 L247.62,219.01 L247.86,218.74 L248.09,218.46 L248.33,218.19 L248.56,217.91 L248.80,217.63 L249.03,217.35 L249.26,217.08 L249.50,216.80 L249.73,216.52 L249.97,216.24 L250.20,215.96 L250.44,215.68 L250.67,215.40 L250.91,215.12 L251.14,214.84 L251.37,214.56 L251.61,214.28 L251.84,213.99 L252.08,213.71 L252.31,213.43 L252.55,213.14 L252.78,212.86 L253.01,212.57 L253.25,212.28 L253.48,212.00 L253.72,211.71 L253.95,211.42 L254.19,211.13 L254.42,210.84 L254.65,210.55 L254.89,210.26 L255.12,209.97 L255.36,209.68 L255.59,209.39 L255.83,209.09 L256.06,208.80 L256.30,208.50 L256.53,208.21 L256.76,207.91 L257.00,207.61 L257.23,207.31 L257.47,207.01 L257.70,206.71 L257.94,206.41 L258.17,206.11 L258.40,205.81 L258.64,205.50 L258.87,205.20 L259.11,204.89 L259.34,204.59 L259.58,204.28 L259.81,203.97 L260.04,203.66 L260.28,203.35 L260.51,203.04 L260.75,202.72 L260.98,202.41 L261.22,202.09 L261.45,201.77 L261.69,201.46 L261.92,201.14 L262.15,200.82 L262.39,200.49 L262.62,200.17 L262.86,199.85 L263.09,199.52 L263.33,199.19 L263.56,198.86 L263.79,198.53 L264.03,198.20 L264.26,197.87 L264.50,197.53 L264.73,197.20 L264.97,196.86 L265.20,196.52 L265.43,196.18 L265.67,195.84 L265.90,195.49 L266.14,195.15 L266.37,194.80 L266.61,194.45 L266.84,194.10 L267.08,193.75 L267.31,193.39 L267.54,193.04 L267.78,192.68 L268.01,192.32 L268.25,191.95 L268.48,191.59 L268.72,191.22 L268.95,190.85 L269.18,190.48 L269.42,190.11 L269.65,189.73 L269.89,189.36 L270.12,188.98 L270.36,188.59 L270.59,188.21 L270.82,187.82 L271.06,187.43 L271.29,187.04 L271.53,186.64 L271.76,186.25 L272.00,185.84 L272.23,185.44 L272.47,185.04 L272.70,184.63 L272.93,184.22 L273.17,183.80 L273.40,183.38 L273.64,182.96 L273.87,182.54 L274.11,182.11 L274.34,181.68 L274.57,181.25 L274.81,180.81 L275.04,180.37 L275.28,179.92 L275.51,179.48 L275.75,179.02 L275.98,178.57 L276.21,178.11 L276.45,177.64 L276.68,177.18 L276.92,176.71 L277.15,176.23 L277.39,175.75 L277.62,175.26 L277.86,174.77 L278.09,174.28 L278.32,173.78 L278.56,173.28 L278.79,172.77 L279.03,172.25 L279.26,171.74 L279.50,171.21 L279.73,170.68 L279.96,170.14 L280.20,169.60 L280.43,169.06 L280.67,168.50 L280.90,167.94 L281.14,167.38 L281.37,166.80 L281.61,166.22 L281.84,165.64 L282.07,165.04 L282.31,164.44 L282.54,163.83 L282.78,163.21 L283.01,162.59 L283.25,161.96 L283.48,161.32 L283.71,160.67 L283.95,160.01 L284.18,159.34 L284.42,158.66 L284.65,157.97 L284.89,157.27 L285.12,156.56 L285.35,155.84 L285.59,155.11 L285.82,154.37 L286.06,153.61 L286.29,152.85 L286.53,152.07 L286.76,151.27 L287.00,150.46 L287.23,149.64 L287.46,148.80 L287.70,147.95 L287.93,147.08 L288.17,146.19 L288.40,145.29 L288.64,144.37 L288.87,143.43 L289.10,142.46 L289.34,141.48 L289.57,140.48 L289.81,139.45 L290.04,138.39 L290.28,137.32 L290.51,136.21 L290.74,135.08 L290.98,133.92 L291.21,132.72 L291.45,131.50 L291.68,130.24 L291.92,128.94 L292.15,127.60 L292.39,126.22 L292.62,124.80 L292.85,123.32 L293.09,121.80 L293.32,120.22 L293.56,118.58 L293.79,116.88 L294.03,115.11 L294.26,113.27 L294.49,111.34 L294.73,109.33 L294.96,107.22 L295.20,105.00 L295.43,102.66 L295.67,100.18 L295.90,97.56 L296.13,94.77 L296.37,91.79 L296.60,88.58 L296.84,85.12 L297.07,81.36 L297.31,77.24 L297.54,72.69 L297.78,67.60 L298.01,61.83 L298.24,55.18 L298.48,47.30 L298.71,37.67 L298.95,25.24 L299.18,7.73 L299.42,-22.20M299.88,-22.20 L300.12,7.73 L300.35,25.24 L300.59,37.67 L300.82,47.30 L301.06,55.18 L301.29,61.83 L301.52,67.60 L301.76,72.69 L301.99,77.24 L302.23,81.36 L302.46,85.12 L302.70,88.58 L302.93,91.79 L303.17,94.77 L303.40,97.56 L303.63,100.18 L303.87,102.66 L304.10,105.00 L304.34,107.22 L304.57,109.33 L304.81,111.34 L305.04,113.27 L305.27,115.11 L305.51,116.88 L305.74,118.58 L305.98,120.22 L306.21,121.80 L306.45,123.32 L306.68,124.80 L306.91,126.22 L307.15,127.60 L307.38,128.94 L307.62,130.24 L307.85,131.50 L308.09,132.72 L308.32,133.92 L308.56,135.08 L308.79,136.21 L309.02,137.32 L309.26,138.39 L309.49,139.45 L309.73,140.48 L309.96,141.48 L310.20,142.46 L310.43,143.43 L310.66,144.37 L310.90,145.29 L311.13,146.19 L311.37,147.08 L311.60,147.95 L311.84,148.80 L312.07,149.64 L312.30,150.46 L312.54,151.27 L312.77,152.07 L313.01,152.85 L313.24,153.61 L313.48,154.37 L313.71,155.11 L313.95,155.84 L314.18,156.56 L314.41,157.27 L314.65,157.97 L314.88,158.66 L315.12,159.34 L315.35,160.01 L315.59,160.67 L315.82,161.32 L316.05,161.96 L316.29,162.59 L316.52,163.21 L316.76,163.83 L316.99,164.44 L317.23,165.04 L317.46,165.64 L317.69,166.22 L317.93,166.80 L318.16,167.38 L318.40,167.94 L318.63,168.50 L318.87,169.06 L319.10,169.60 L319.34,170.14 L319.57,170.68 L319.80,171.21 L320.04,171.74 L320.27,172.25 L320.51,172.77 L320.74,173.28 L320.98,173.78 L321.21,174.28 L321.44,174.77 L321.68,175.26 L321.91,175.75 L322.15,176.23 L322.38,176.71 L322.62,177.18 L322.85,177.64 L323.09,178.11 L323.32,178.57 L323.55,179.02 L323.79,179.48 L324.02,179.92 L324.26,180.37 L324.49,180.81 L324.73,181.25 L324.96,181.68 L325.19,182.11 L325.43,182.54 L325.66,182.96 L325.90,183.38 L326.13,183.80 L326.37,184.22 L326.60,184.63 L326.83,185.04 L327.07,185.44 L327.30,185.84 L327.54,186.25 L327.77,186.64 L328.01,187.04 L328.24,187.43 L328.48,187.82 L328.71,188.21 L328.94,188.59 L329.18,188.98 L329.41,189.36 L329.65,189.73 L329.88,190.11 L330.12,190.48 L330.35,190.85 L330.58,191.22 L330.82,191.59 L331.05,191.95 L331.29,192.32 L331.52,192.68 L331.76,193.04 L331.99,193.39 L332.22,193.75 L332.46,194.10 L332.69,194.45 L332.93,194.80 L333.16,195.15 L333.40,195.49 L333.63,195.84 L333.87,196.18 L334.10,196.52 L334.33,196.86 L334.57,197.20 L334.80,197.53 L335.04,197.87 L335.27,198.20 L335.51,198.53 L335.74,198.86 L335.97,199.19 L336.21,199.52 L336.44,199.85 L336.68,200.17 L336.91,200.49 L337.15,200.82 L337.38,201.14 L337.61,201.46 L337.85,201.77 L338.08,202.09 L338.32,202.41 L338.55,202.72 L338.79,203.04 L339.02,203.35 L339.26,203.66 L339.49,203.97 L339.72,204.28 L339.96,204.59 L340.19,204.89 L340.43,205.20 L340.66,205.50 L340.90,205.81 L341.13,206.11 L341.36,206.41 L341.60,206.71 L341.83,207.01 L342.07,207.31 L342.30,207.61 L342.54,207.91 L342.77,208.21 L343.00,208.50 L343.24,208.80 L343.47,209.09 L343.71,209.39 L343.94,209.68 L344.18,209.97 L344.41,210.26 L344.65,210.55 L344.88,210.84 L345.11,211.13 L345.35,211.42 L345.58,211.71 L345.82,212.00 L346.05,212.28 L346.29,212.57 L346.52,212.86 L346.75,213.14 L346.99,213.43 L347.22,213.71 L347.46,213.99 L347.69,214.28 L347.93,214.56 L348.16,214.84 L348.39,215.12 L348.63,215.40 L348.86,215.68 L349.10,215.96 L349.33,216.24 L349.57,216.52 L349.80,216.80 L350.04,217.08 L350.27,217.35 L350.50,217.63 L350.74,217.91 L350.97,218.19 L351.21,218.46 L351.44,218.74 L351.68,219.01 L351.91,219.29 L352.14,219.56 L352.38,219.84 L352.61,220.11 L352.85,220.39 L353.08,220.66 L353.32,220.94 L353.55,221.21 L353.78,221.48 L354.02,221.76 L354.25,222.03 L354.49,222.30 L354.72,222.57 L354.96,222.85 L355.19,223.12 L355.43,223.39 L355.66,223.66 L355.89,223.94 L356.13,224.21 L356.36,224.48 L356.60,224.75 L356.83,225.02 L357.07,225.29 L357.30,225.56 L357.53,225.84 L357.77,226.11 L358.00,226.38 L358.24,226.65 L358.47,226.92 L358.71,227.19 L358.94,227.46 L359.17,227.74 L359.41,228.01 L359.64,228.28 L359.88,228.55 L360.11,228.82 L360.35,229.09 L360.58,229.36 L360.82,229.64 L361.05,229.91 L361.28,230.18 L361.52,230.45 L361.75,230.73 L361.99,231.00 L362.22,231.27 L362.46,231.54 L362.69,231.82 L362.92,232.09 L363.16,232.36 L363.39,232.64 L363.63,232.91 L363.86,233.19 L364.10,233.46 L364.33,233.74 L364.56,234.01 L364.80,234.29 L365.03,234.56 L365.27,234.84 L365.50,235.11 L365.74,235.39 L365.97,235.67 L366.21,235.95 L366.44,236.22 L366.67,236.50 L366.91,236.78 L367.14,237.06 L367.38,237.34 L367.61,237.62 L367.85,237.90 L368.08,238.18 L368.31,238.46 L368.55,238.74 L368.78,239.02 L369.02,239.31 L369.25,239.59 L369.49,239.87 L369.72,240.16 L369.96,240.44 L370.19,240.73 L370.42,241.02 L370.66,241.30 L370.89,241.59 L371.13,241.88 L371.36,242.17 L371.60,242.46 L371.83,242.75 L372.06,243.04 L372.30,243.33 L372.53,243.62 L372.77,243.91 L373.00,244.21 L373.24,244.50 L373.47,244.80 L373.70,245.09 L373.94,245.39 L374.17,245.69 L374.41,245.99 L374.64,246.29 L374.88,246.59 L375.11,246.89 L375.35,247.19 L375.58,247.49 L375.81,247.80 L376.05,248.10 L376.28,248.41 L376.52,248.71 L376.75,249.02 L376.99,249.33 L377.22,249.64 L377.45,249.95 L377.69,250.26 L377.92,250.58 L378.16,250.89 L378.39,251.21 L378.63,251.53 L378.86,251.84 L379.09,252.16 L379.33,252.48 L379.56,252.81 L379.80,253.13 L380.03,253.45 L380.27,253.78 L380.50,254.11 L380.74,254.44 L380.97,254.77 L381.20,255.10 L381.44,255.43 L381.67,255.77 L381.91,256.10 L382.14,256.44 L382.38,256.78 L382.61,257.12 L382.84,257.46 L383.08,257.81 L383.31,258.15 L383.55,258.50 L383.78,258.85 L384.02,259.20 L384.25,259.55 L384.48,259.91 L384.72,260.26 L384.95,260.62 L385.19,260.98 L385.42,261.35 L385.66,261.71 L385.89,262.08 L386.13,262.45 L386.36,262.82 L386.59,263.19 L386.83,263.57 L387.06,263.94 L387.30,264.32 L387.53,264.71 L387.77,265.09 L388.00,265.48 L388.23,265.87 L388.47,266.26 L388.70,266.66 L388.94,267.05 L389.17,267.46 L389.41,267.86 L389.64,268.26 L389.87,268.67 L390.11,269.08 L390.34,269.50 L390.58,269.92 L390.81,270.34 L391.05,270.76 L391.28,271.19 L391.52,271.62 L391.75,272.05 L391.98,272.49 L392.22,272.93 L392.45,273.38 L392.69,273.82 L392.92,274.28 L393.16,274.73 L393.39,275.19 L393.62,275.66 L393.86,276.12 L394.09,276.59 L394.33,277.07 L394.56,277.55 L394.80,278.04 L395.03,278.53 L395.26,279.02 L395.50,279.52 L395.73,280.02 L395.97,280.53 L396.20,281.05 L396.44,281.56 L396.67,282.09 L396.91,282.62 L397.14,283.16 L397.37,283.70 L397.61,284.24 L397.84,284.80 L398.08,285.36 L398.31,285.92 L398.55,286.50 L398.78,287.08 L399.01,287.66 L399.25,288.26 L399.48,288.86 L399.72,289.47 L399.95,290.09 L400.19,290.71 L400.42,291.34 L400.65,291.98 L400.89,292.63 L401.12,293.29 L401.36,293.96 L401.59,294.64 L401.83,295.33 L402.06,296.03 L402.30,296.74 L402.53,297.46 L402.76,298.19 L403.00,298.93 L403.23,299.69 L403.47,300.45 L403.70,301.23 L403.94,302.03 L404.17,302.84 L404.40,303.66 L404.64,304.50 L404.87,305.35 L405.11,306.22 L405.34,307.11 L405.58,308.01 L405.81,308.93 L406.04,309.87 L406.28,310.84 L406.51,311.82 L406.75,312.82 L406.98,313.85 L407.22,314.91 L407.45,315.98 L407.69,317.09 L407.92,318.22 L408.15,319.38 L408.39,320.58 L408.62,321.80 L408.86,323.06 L409.09,324.36 L409.33,325.70 L409.56,327.08 L409.79,328.50 L410.03,329.98 L410.26,331.50 L410.50,333.08 L410.73,334.72 L410.97,336.42 L411.20,338.19 L411.43,340.03 L411.67,341.96 L411.90,343.97 L412.14,346.08 L412.37,348.30 L412.61,350.64 L412.84,353.12 L413.08,355.74 L413.31,358.53 L413.54,361.51 L413.78,364.72 L414.01,368.18 L414.25,371.94 L414.48,376.06 L414.72,380.61 L414.95,385.70 L415.18,391.47 L415.42,398.12 L415.65,406.00 L415.89,415.63 L416.12,428.06 L416.36,445.57 L417.29,445.57 L417.53,428.06 L417.76,415.63 L418.00,406.00 L418.23,398.12 L418.47,391.47 L418.70,385.70 L418.93,380.61 L419.17,376.06 L419.40,371.94 L419.64,368.18 L419.87,364.72 L420.11,361.51 L420.34,358.53 L420.57,355.74 L420.81,353.12 L421.04,350.64 L421.28,348.30 L421.51,346.08 L421.75,343.97 L421.98,341.96 L422.22,340.03 L422.45,338.19 L422.68,336.42 L422.92,334.72 L423.15,333.08 L423.39,331.50 L423.62,329.98 L423.86,328.50 L424.09,327.08 L424.32,325.70 L424.56,324.36 L424.79,323.06 L425.03,321.80 L425.26,320.58 L425.50,319.38 L425.73,318.22 L425.96,317.09 L426.20,315.98 L426.43,314.91 L426.67,313.85 L426.90,312.82 L427.14,311.82 L427.37,310.84 L427.61,309.87 L427.84,308.93 L428.07,308.01 L428.31,307.11 L428.54,306.22 L428.78,305.35 L429.01,304.50 L429.25,303.66 L429.48,302.84 L429.71,302.03 L429.95,301.23 L430.18,300.45 L430.42,299.69 L430.65,298.93 L430.89,298.19 L431.12,297.46 L431.35,296.74 L431.59,296.03 L431.82,295.33 L432.06,294.64 L432.29,293.96 L432.53,293.29 L432.76,292.63 L433.00,291.98 L433.23,291.34 L433.46,290.71 L433.70,290.09 L433.93,289.47 L434.17,288.86 L434.40,288.26 L434.64,287.66 L434.87,287.08 L435.10,286.50 L435.34,285.92 L435.57,285.36 L435.81,284.80 L436.04,284.24 L436.28,283.70 L436.51,283.16 L436.74,282.62 L436.98,282.09 L437.21,281.56 L437.45,281.05 L437.68,280.53 L437.92,280.02 L438.15,279.52 L438.39,279.02 L438.62,278.53 L438.85,278.04 L439.09,277.55 L439.32,277.07 L439.56,276.59 L439.79,276.12 L440.03,275.66 L440.26,275.19 L440.49,274.73 L440.73,274.28 L440.96,273.82 L441.20,273.38 L441.43,272.93 L441.67,272.49 L441.90,272.05 L442.13,271.62 L442.37,271.19 L442.60,270.76 L442.84,270.34 L443.07,269.92 L443.31,269.50 L443.54,269.08 L443.78,268.67 L444.01,268.26 L444.24,267.86 L444.48,267.46 L444.71,267.05 L444.95,266.66 L445.18,266.26 L445.42,265.87 L445.65,265.48 L445.88,265.09 L446.12,264.71 L446.35,264.32 L446.59,263.94 L446.82,263.57 L447.06,263.19 L447.29,262.82 L447.52,262.45 L447.76,262.08 L447.99,261.71 L448.23,261.35 L448.46,260.98 L448.70,260.62 L448.93,260.26 L449.17,259.91 L449.40,259.55 L449.63,259.20 L449.87,258.85 L450.10,258.50 L450.34,258.15 L450.57,257.81 L450.81,257.46 L451.04,257.12 L451.27,256.78 L451.51,256.44 L451.74,256.10 L451.98,255.77 L452.21,255.43 L452.45,255.10 L452.68,254.77 L452.91,254.44 L453.15,254.11 L453.38,253.78 L453.62,253.45 L453.85,253.13 L454.09,252.81 L454.32,252.48 L454.56,252.16 L454.79,251.84 L455.02,251.53 L455.26,251.21 L455.49,250.89 L455.73,250.58 L455.96,250.26 L456.20,249.95 L456.43,249.64 L456.66,249.33 L456.90,249.02 L457.13,248.71 L457.37,248.41 L457.60,248.10 L457.84,247.80 L458.07,247.49 L458.30,247.19 L458.54,246.89 L458.77,246.59 L459.01,246.29 L459.24,245.99 L459.48,245.69 L459.71,245.39 L459.95,245.09 L460.18,244.80 L460.41,244.50 L460.65,244.21 L460.88,243.91 L461.12,243.62 L461.35,243.33 L461.59,243.04 L461.82,242.75 L462.05,242.46 L462.29,242.17 L462.52,241.88 L462.76,241.59 L462.99,241.30 L463.23,241.02 L463.46,240.73 L463.69,240.44 L463.93,240.16 L464.16,239.87 L464.40,239.59 L464.63,239.31 L464.87,239.02 L465.10,238.74 L465.34,238.46 L465.57,238.18 L465.80,237.90 L466.04,237.62 L466.27,237.34 L466.51,237.06 L466.74,236.78 L466.98,236.50 L467.21,236.22 L467.44,235.95 L467.68,235.67 L467.91,235.39 L468.15,235.11 L468.38,234.84 L468.62,234.56 L468.85,234.29 L469.09,234.01 L469.32,233.74 L469.55,233.46 L469.79,233.19 L470.02,232.91 L470.26,232.64 L470.49,232.36 L470.73,232.09 L470.96,231.82 L471.19,231.54 L471.43,231.27 L471.66,231.00 L471.90,230.73 L472.13,230.45 L472.37,230.18 L472.60,229.91 L472.83,229.64 L473.07,229.36 L473.30,229.09 L473.54,228.82 L473.77,228.55 L474.01,228.28 L474.24,228.01 L474.48,227.74 L474.71,227.46 L474.94,227.19 L475.18,226.92 L475.41,226.65 L475.65,226.38 L475.88,226.11 L476.12,225.84 L476.35,225.56 L476.58,225.29 L476.82,225.02 L477.05,224.75 L477.29,224.48 L477.52,224.21 L477.76,223.94 L477.99,223.66 L478.22,223.39 L478.46,223.12 L478.69,222.85 L478.93,222.57 L479.16,222.30 L479.40,222.03 L479.63,221.76 L479.87,221.48 L480.10,221.21 L480.33,220.94 L480.57,220.66 L480.80,220.39 L481.04,220.11 L481.27,219.84 L481.51,219.56 L481.74,219.29 L481.97,219.01 L482.21,218.74 L482.44,218.46 L482.68,218.19 L482.91,217.91 L483.15,217.63 L483.38,217.35 L483.61,217.08 L483.85,216.80 L484.08,216.52 L484.32,216.24 L484.55,215.96 L484.79,215.68 L485.02,215.40 L485.26,215.12 L485.49,214.84 L485.72,214.56 L485.96,214.28 L486.19,213.99 L486.43,213.71 L486.66,213.43 L486.90,213.14 L487.13,212.86 L487.36,212.57 L487.60,212.28 L487.83,212.00 L488.07,211.71 L488.30,211.42 L488.54,211.13 L488.77,210.84 L489.00,210.55 L489.24,210.26 L489.47,209.97 L489.71,209.68 L489.94,209.39 L490.18,209.09 L490.41,208.80 L490.65,208.50 L490.88,208.21 L491.11,207.91 L491.35,207.61 L491.58,207.31 L491.82,207.01 L492.05,206.71 L492.29,206.41 L492.52,206.11 L492.75,205.81 L492.99,205.50 L493.22,205.20 L493.46,204.89 L493.69,204.59 L493.93,204.28 L494.16,203.97 L494.39,203.66 L494.63,203.35 L494.86,203.04 L495.10,202.72 L495.33,202.41 L495.57,202.09 L495.80,201.77 L496.04,201.46 L496.27,201.14 L496.50,200.82 L496.74,200.49 L496.97,200.17 L497.21,199.85 L497.44,199.52 L497.68,199.19 L497.91,198.86 L498.14,198.53 L498.38,198.20 L498.61,197.87 L498.85,197.53 L499.08,197.20 L499.32,196.86 L499.55,196.52 L499.78,196.18 L500.02,195.84 L500.25,195.49 L500.49,195.15 L500.72,194.80 L500.96,194.45 L501.19,194.10 L501.43,193.75 L501.66,193.39 L501.89,193.04 L502.13,192.68 L502.36,192.32 L502.60,191.95 L502.83,191.59 L503.07,191.22 L503.30,190.85 L503.53,190.48 L503.77,190.11 L504.00,189.73 L504.24,189.36 L504.47,188.98 L504.71,188.59 L504.94,188.21 L505.17,187.82 L505.41,187.43 L505.64,187.04 L505.88,186.64 L506.11,186.25 L506.35,185.84 L506.58,185.44 L506.82,185.04 L507.05,184.63 L507.28,184.22 L507.52,183.80 L507.75,183.38 L507.99,182.96 L508.22,182.54 L508.46,182.11 L508.69,181.68 L508.92,181.25 L509.16,180.81 L509.39,180.37 L509.63,179.92 L509.86,179.48 L510.10,179.02 L510.33,178.57 L510.57,178.11 L510.80,177.64 L511.03,177.18 L511.27,176.71 L511.50,176.23 L511.74,175.75 L511.97,175.26 L512.21,174.77 L512.44,174.28 L512.67,173.78 L512.91,173.28 L513.14,172.77 L513.38,172.25 L513.61,171.74 L513.85,171.21 L514.08,170.68 L514.31,170.14 L514.55,169.60 L514.78,169.06 L515.02,168.50 L515.25,167.94 L515.49,167.38 L515.72,166.80 L515.96,166.22 L516.19,165.64 L516.42,165.04 L516.66,164.44 L516.89,163.83 L517.13,163.21 L517.36,162.59 L517.60,161.96 L517.83,161.32 L518.06,160.67 L518.30,160.01 L518.53,159.34 L518.77,158.66 L519.00,157.97 L519.24,157.27 L519.47,156.56 L519.70,155.84 L519.94,155.11 L520.17,154.37 L520.41,153.61 L520.64,152.85 L520.88,152.07 L521.11,151.27 L521.35,150.46 L521.58,149.64 L521.81,148.80 L522.05,147.95 L522.28,147.08 L522.52,146.19 L522.75,145.29 L522.99,144.37 L523.22,143.43 L523.45,142.46 L523.69,141.48 L523.92,140.48 L524.16,139.45 L524.39,138.39 L524.63,137.32 L524.86,136.21 L525.09,135.08 L525.33,133.92 L525.56,132.72 L525.80,131.50 L526.03,130.24 L526.27,128.94 L526.50,127.60 L526.74,126.22 L526.97,124.80 L527.20,123.32 L527.44,121.80 L527.67,120.22 L527.91,118.58 L528.14,116.88 L528.38,115.11 L528.61,113.27 L528.84,111.34 L529.08,109.33 L529.31,107.22 L529.55,105.00 L529.78,102.66 L530.02,100.18 L530.25,97.56 L530.48,94.77 L530.72,91.79 L530.95,88.58 L531.19,85.12 L531.42,81.36 L531.66,77.24 L531.89,72.69 L532.13,67.60 L532.36,61.83 L532.59,55.18 L532.83,47.30 L533.06,37.67 L533.30,25.24 L533.53,7.73 L534.00,-46.77" stroke="#000000"/>
<line x1="65.3" y1="61.49" x2="534.0" y2="61.49" stroke="#0000ff" stroke-width="2.7"/>
</g>
<g font-size="19" font-weight="bold">
<text x="58.7" y="426.20" text-anchor="end" dominant-baseline="central">-40</text>
<text x="58.7" y="376.49" text-anchor="end" dominant-baseline="central">-30</text>
<text x="58.7" y="326.77" text-anchor="end" dominant-baseline="central">-20</text>
<text x="58.7" y="277.06" text-anchor="end" dominant-baseline="central">-10</text>
<text x="58.7" y="227.35" text-anchor="end" dominant-baseline="central">0</text>
<text x="58.7" y="177.64" text-anchor="end" dominant-baseline="central">10</text>
<text x="58.7" y="127.92" text-anchor="end" dominant-baseline="central">20</text>
<text x="58.7" y="78.21" text-anchor="end" dominant-baseline="central">30</text>
<text x="58.7" y="28.50" text-anchor="end" dominant-baseline="central">40</text>
<text x="65.30" y="443.6" text-anchor="middle" dominant-baseline="central">-0.5</text>
<text x="299.65" y="443.6" text-anchor="middle" dominant-baseline="central">0</text>
<text x="534.00" y="443.6" text-anchor="middle" dominant-baseline="central">0.5</text>
</g>
<text x="299.6" y="23.0" text-anchor="middle" font-size="21" font-weight="bold">IRR</text>
<text x="299.6" y="473.9" text-anchor="middle" font-size="21" font-weight="bold">Normalized frequency</text>
<text transform="translate(25,227.4) rotate(-90)" x="0" y="0" text-anchor="middle" font-size="20.4" font-weight="bold">IRR(dB)</text>
<rect x="340.4" y="73.8" width="164.5" height="68.8" fill="#fff"/>
<path d="M340.4,73.8H505" stroke="#a8a8a8" stroke-width="1.3" fill="none"/>
<path d="M505,73.8V142.6" stroke="#ececec" stroke-width="1.2" fill="none"/>
<path d="M340.4,73.8V142.6" stroke="#555" stroke-width="1.3" fill="none"/>
<path d="M340,142.7H505" stroke="#333" stroke-width="1.6" fill="none"/>
<line x1="344.6" y1="86.6" x2="375.3" y2="86.6" stroke="#ff0000" stroke-width="3"/>
<text x="379" y="94.0" font-size="19" font-weight="bold">TDD=1,<tspan font-style="italic" font-weight="normal">ϕ</tspan><tspan dx="1.2">=0</tspan></text>
<line x1="344.6" y1="108.1" x2="375.3" y2="108.1" stroke="#000000" stroke-width="3"/>
<text x="379" y="115.4" font-size="19" font-weight="bold">TDD=2,<tspan font-style="italic" font-weight="normal">ϕ</tspan><tspan dx="1.2">=0</tspan></text>
<line x1="344.6" y1="129.8" x2="375.3" y2="129.8" stroke="#0000ff" stroke-width="3"/>
<text x="379" y="137.0" font-size="19" font-weight="bold">TDD=0,<tspan font-style="italic" font-weight="normal">ϕ</tspan><tspan dx="1.2">=π/72</tspan></text>

</svg>
</body></html>
